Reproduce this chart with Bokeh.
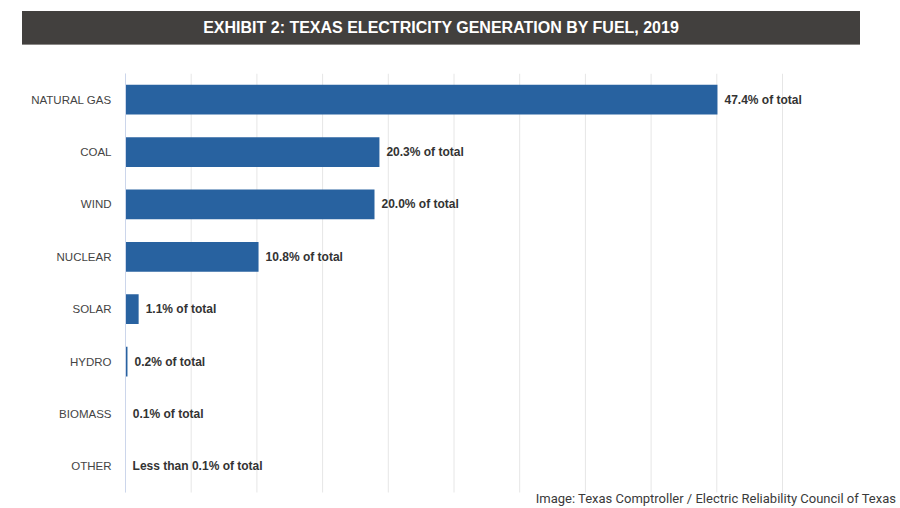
from bokeh.plotting import figure
from bokeh.models import ColumnDataSource, FixedTicker, Label, Div, Range1d
from bokeh.layouts import column
from bokeh.core.properties import value
from bokeh.embed import file_html
from bokeh.resources import INLINE

title_text = "EXHIBIT 2: TEXAS ELECTRICITY GENERATION BY FUEL, 2019"
fuels = ["NATURAL GAS", "COAL", "WIND", "NUCLEAR", "SOLAR", "HYDRO", "BIOMASS", "OTHER"]
generation_twh = [180.2, 77.3, 75.8, 40.5, 4.0, 0.6, 0.1, 0.03]
share_labels = ["47.4% of total", "20.3% of total", "20.0% of total", "10.8% of total",
                "1.1% of total", "0.2% of total", "0.1% of total", "Less than 0.1% of total"]
grid_ticks = [0, 20, 40, 60, 80, 100, 120, 140, 160, 180, 200]
caption = "Image: Texas Comptroller / Electric Reliability Council of Texas"

FONT = "Liberation Sans"

positions = list(range(len(fuels)))
src = ColumnDataSource(dict(pos=positions, fuel=fuels, gen=generation_twh, lab=share_labels))

title_div = Div(
    text=(f'<div style="width:838px;height:34px;background:#42403e;color:#ffffff;'
          f'font-family:\'{FONT}\',Arial,sans-serif;font-weight:bold;font-size:16px;'
          f'display:flex;align-items:center;justify-content:center;padding-top:2px;'
          f'border-bottom:1px solid #8a8886;box-sizing:border-box;">{title_text}</div>'),
    width=838, height=34, margin=(11, 0, 0, 22),
)

FIG_W = 898
ROW_PX = 52.375
EXTRA_BOTTOM_PX = 15
n = len(fuels)
p = figure(
    width=FIG_W, height=462,
    y_range=Range1d(n - 0.5 + EXTRA_BOTTOM_PX / ROW_PX, -0.5),
    x_range=Range1d(0, 200 + (FIG_W - 782) / 65.7 * 20),
    output_backend="svg", toolbar_location=None,
    min_border_left=125, min_border_right=0, min_border_top=28, min_border_bottom=0,
)
p.outline_line_color = None
p.background_fill_color = "#ffffff"
p.border_fill_color = "#ffffff"
p.xgrid.grid_line_color = None
p.ygrid.grid_line_color = None

# vertical gridlines, limited to the category band
p.segment(x0=grid_ticks, x1=grid_ticks, y0=[-0.5] * len(grid_ticks),
          y1=[n - 0.5] * len(grid_ticks), line_color="#e6e6e6", line_width=1)

p.hbar(y="pos", right="gen", left=0, height=0.57, source=src,
       fill_color="#2862a0", line_color=None)

p.text(x="gen", y="pos", text="lab", source=src, x_offset=7,
       text_font=value(FONT), text_font_style="bold", text_font_size="12px",
       text_color="#333333", text_baseline="middle", text_align="left")

p.xaxis.visible = False

ya = p.yaxis[0]
ya.ticker = FixedTicker(ticks=positions)
ya.major_label_overrides = {i: f for i, f in zip(positions, fuels)}
ya.bounds = (-0.5, n - 0.5)
ya.axis_line_color = "#ccd6eb"
ya.axis_line_width = 1
ya.major_tick_line_color = None
ya.minor_tick_line_color = None
ya.major_tick_out = 0
ya.major_label_standoff = 14
ya.major_label_text_font = FONT
ya.major_label_text_font_size = "11.5px"
ya.major_label_text_color = "#444444"

cap = Label(x=771, y=9, x_units="screen", y_units="screen", text=caption,
            text_font="Roboto", text_font_size="13px", text_color="#3a3a3a",
            text_align="right", text_baseline="middle")
p.add_layout(cap)

layout = column(title_div, p, spacing=0)
open("out.html", "w").write(file_html(layout, INLINE))
